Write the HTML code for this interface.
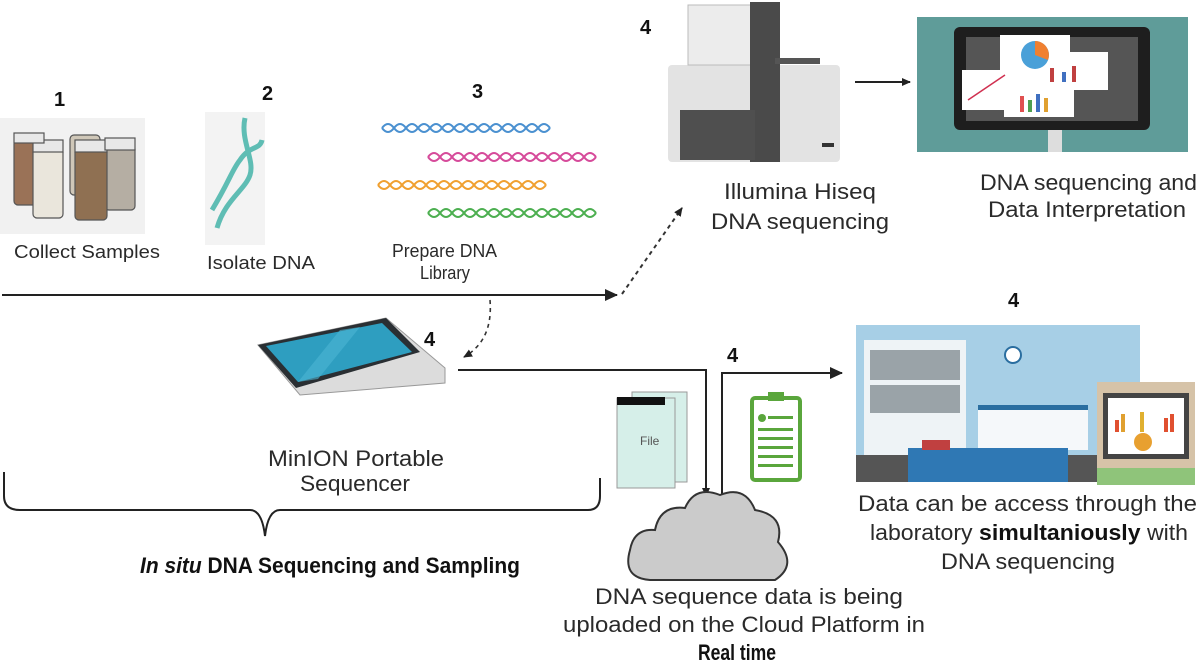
<!DOCTYPE html>
<html><head><meta charset="utf-8"><style>
html,body{margin:0;padding:0;background:#fff;}
svg{display:block;}
text{font-family:"Liberation Sans",sans-serif;fill:#2a2a2a;}
.n{font-weight:bold;font-size:20px;fill:#111;}
.l{font-size:22px;}
.s{font-size:18px;}
</style></head><body>
<svg width="1200" height="663" viewBox="0 0 1200 663" xmlns="http://www.w3.org/2000/svg">
<defs>
<marker id="ah" markerWidth="10" markerHeight="10" refX="8" refY="5" orient="auto" markerUnits="userSpaceOnUse"><path d="M0,1 L9,5 L0,9 Z" fill="#222"/></marker>
<marker id="ah2" markerWidth="14" markerHeight="14" refX="12" refY="7" orient="auto" markerUnits="userSpaceOnUse"><path d="M0,1 L13,7 L0,13 Z" fill="#222"/></marker>
</defs>

<text class="n" x="54" y="106">1</text>
<text class="n" x="262" y="100">2</text>
<text class="n" x="472" y="98">3</text>
<text class="n" x="640" y="34">4</text>
<text class="n" x="920" y="40">5</text>
<text class="n" x="424" y="346">4</text>
<text class="n" x="727" y="362">4</text>
<text class="n" x="1008" y="307">4</text>

<rect x="0" y="118" width="145" height="116" fill="#f1f1f1"/>
<g stroke="#555" stroke-width="1.2">
<rect x="14" y="140" width="30" height="65" rx="4" fill="#9a7257"/>
<rect x="70" y="135" width="30" height="60" rx="4" fill="#cfc7b8"/>
<rect x="105" y="145" width="30" height="65" rx="4" fill="#b5aea3"/>
<rect x="33" y="148" width="30" height="70" rx="4" fill="#eae6dc"/>
<rect x="75" y="148" width="32" height="72" rx="4" fill="#8f7052"/>
<rect x="33" y="140" width="30" height="12" fill="#e8e8e8"/>
<rect x="75" y="140" width="32" height="12" fill="#e8e8e8"/>
<rect x="105" y="138" width="30" height="12" fill="#e8e8e8"/>
<rect x="14" y="133" width="30" height="10" fill="#e8e8e8"/>
</g>
<text class="s" x="14" y="258" textLength="146" lengthAdjust="spacingAndGlyphs">Collect Samples</text>

<rect x="205" y="112" width="60" height="133" fill="#f3f3f3"/>
<g stroke="#5fbdb4" stroke-width="5" fill="none">
<path d="M212,210 C230,180 232,170 240,160 C250,145 260,150 262,140"/>
<path d="M217,228 C225,200 245,190 250,175 C255,160 240,140 245,118"/>
</g>
<text class="s" x="207" y="269" textLength="108" lengthAdjust="spacingAndGlyphs">Isolate DNA</text>

<g fill="none" stroke-width="2">
<path d="M382,128 q6,-8 12,0 t12,0 t12,0 t12,0 t12,0 t12,0 t12,0 t12,0 t12,0 t12,0 t12,0 t12,0 t12,0 t12,0" stroke="#4a90d0"/>
<path d="M382,128 q6,8 12,0 t12,0 t12,0 t12,0 t12,0 t12,0 t12,0 t12,0 t12,0 t12,0 t12,0 t12,0 t12,0 t12,0" stroke="#4a90d0"/>
<path d="M428,157 q6,-8 12,0 t12,0 t12,0 t12,0 t12,0 t12,0 t12,0 t12,0 t12,0 t12,0 t12,0 t12,0 t12,0 t12,0" stroke="#d64a9a"/>
<path d="M428,157 q6,8 12,0 t12,0 t12,0 t12,0 t12,0 t12,0 t12,0 t12,0 t12,0 t12,0 t12,0 t12,0 t12,0 t12,0" stroke="#d64a9a"/>
<path d="M378,185 q6,-8 12,0 t12,0 t12,0 t12,0 t12,0 t12,0 t12,0 t12,0 t12,0 t12,0 t12,0 t12,0 t12,0 t12,0" stroke="#f0a030"/>
<path d="M378,185 q6,8 12,0 t12,0 t12,0 t12,0 t12,0 t12,0 t12,0 t12,0 t12,0 t12,0 t12,0 t12,0 t12,0 t12,0" stroke="#f0a030"/>
<path d="M428,213 q6,-8 12,0 t12,0 t12,0 t12,0 t12,0 t12,0 t12,0 t12,0 t12,0 t12,0 t12,0 t12,0 t12,0 t12,0" stroke="#4caf50"/>
<path d="M428,213 q6,8 12,0 t12,0 t12,0 t12,0 t12,0 t12,0 t12,0 t12,0 t12,0 t12,0 t12,0 t12,0 t12,0 t12,0" stroke="#4caf50"/>
</g>
<text class="s" x="392" y="257" textLength="105" lengthAdjust="spacingAndGlyphs">Prepare DNA</text>
<text class="s" x="420" y="279" textLength="50" lengthAdjust="spacingAndGlyphs">Library</text>

<line x1="2" y1="295" x2="617" y2="295" stroke="#222" stroke-width="2" marker-end="url(#ah2)"/>
<line x1="622" y1="294" x2="682" y2="208" stroke="#333" stroke-width="2" stroke-dasharray="4,4" marker-end="url(#ah)"/>
<path d="M490,300 C492,325 485,345 464,357" stroke="#333" stroke-width="1.6" stroke-dasharray="4,4" fill="none" marker-end="url(#ah)"/>

<rect x="668" y="65" width="172" height="97" rx="4" fill="#e3e3e3"/>
<rect x="688" y="5" width="65" height="60" fill="#ececec" stroke="#bbb"/>
<rect x="750" y="2" width="30" height="160" fill="#4a4a4a"/>
<rect x="680" y="110" width="75" height="50" fill="#4f4f4f"/>
<rect x="775" y="58" width="45" height="6" fill="#555"/>
<rect x="822" y="143" width="12" height="4" fill="#333"/>
<text class="l" x="724" y="199" textLength="152" lengthAdjust="spacingAndGlyphs">Illumina Hiseq</text>
<text class="l" x="711" y="229" textLength="178" lengthAdjust="spacingAndGlyphs">DNA sequencing</text>

<line x1="855" y1="82" x2="910" y2="82" stroke="#222" stroke-width="2" marker-end="url(#ah)"/>

<rect x="917" y="17" width="271" height="135" fill="#5f9c99"/>
<rect x="954" y="27" width="196" height="103" rx="6" fill="#1e1e1e"/>
<rect x="966" y="37" width="172" height="84" fill="#555"/>
<rect x="1000" y="35" width="70" height="42" fill="#fff"/>
<rect x="1036" y="52" width="72" height="38" fill="#fff"/>
<rect x="962" y="70" width="80" height="40" fill="#fff"/>
<rect x="1004" y="85" width="70" height="32" fill="#fff"/>
<circle cx="1035" cy="55" r="14" fill="#4aa0d8"/>
<path d="M1035,55 L1035,41 A14,14 0 0 1 1048,60 Z" fill="#f08030"/>
<path d="M968,100 L1005,75" stroke="#d03050" stroke-width="1.5"/>
<rect x="1020" y="96" width="4" height="16" fill="#e05050"/><rect x="1028" y="100" width="4" height="12" fill="#50a050"/><rect x="1036" y="94" width="4" height="18" fill="#4070c0"/><rect x="1044" y="98" width="4" height="14" fill="#e0a030"/>
<rect x="1050" y="68" width="4" height="14" fill="#c04040"/><rect x="1062" y="72" width="4" height="10" fill="#4070c0"/><rect x="1072" y="66" width="4" height="16" fill="#c04040"/>
<rect x="1048" y="130" width="14" height="22" fill="#ddd"/>
<text class="l" x="980" y="190" textLength="217" lengthAdjust="spacingAndGlyphs">DNA sequencing and</text>
<text class="l" x="988" y="217" textLength="198" lengthAdjust="spacingAndGlyphs">Data Interpretation</text>

<polygon points="258,345 300,395 445,383 445,368 386,318" fill="#dcdcdc" stroke="#999"/>
<polygon points="258,345 386,318 420,352 296,388" fill="#2a2f33"/>
<polygon points="266,346 382,323 412,352 298,382" fill="#2e9ec0"/>
<polygon points="298,382 340,330 360,327 318,379" fill="#4cb6d4" opacity="0.6"/>
<text class="l" x="268" y="466" textLength="176" lengthAdjust="spacingAndGlyphs">MinION Portable</text>
<text class="l" x="300" y="491" textLength="110" lengthAdjust="spacingAndGlyphs">Sequencer</text>

<path d="M4,472 L4,496 Q4,510 20,510 L250,510 Q262,510 265,536 Q268,510 280,510 L588,510 Q600,510 600,496 L600,478" fill="none" stroke="#222" stroke-width="2"/>
<text x="140" y="573" textLength="380" lengthAdjust="spacingAndGlyphs" style="font-size:22px;font-weight:bold;fill:#111"><tspan font-style="italic">In situ</tspan> DNA Sequencing and Sampling</text>

<polyline points="458,370 706,370 706,496" fill="none" stroke="#222" stroke-width="2" marker-end="url(#ah)"/>
<polyline points="722,498 722,373 842,373" fill="none" stroke="#222" stroke-width="2" marker-end="url(#ah2)"/>

<rect x="632" y="392" width="55" height="90" fill="#d6efe9" stroke="#999"/>
<rect x="617" y="398" width="58" height="90" fill="#d6efe9" stroke="#999"/>
<rect x="617" y="397" width="48" height="8" fill="#111"/>
<text x="640" y="445" style="font-size:12px;fill:#555">File</text>

<rect x="752" y="398" width="48" height="82" rx="3" fill="#fff" stroke="#5aa63c" stroke-width="4"/>
<rect x="768" y="392" width="16" height="9" fill="#5aa63c"/>
<g fill="#5aa63c"><circle cx="762" cy="418" r="4"/><rect x="768" y="416" width="25" height="3"/><rect x="758" y="428" width="35" height="3"/><rect x="758" y="437" width="35" height="3"/><rect x="758" y="446" width="35" height="3"/><rect x="758" y="455" width="35" height="3"/><rect x="758" y="464" width="35" height="3"/></g>

<path d="M650,580 Q622,578 630,550 Q634,528 655,530 Q660,505 685,508 Q695,485 720,495 Q745,485 755,510 Q785,515 778,542 Q798,565 775,580 Z" fill="#cbcbcb" stroke="#333" stroke-width="2"/>
<text class="l" x="595" y="604" textLength="308" lengthAdjust="spacingAndGlyphs">DNA sequence  data is being</text>
<text class="l" x="563" y="632" textLength="362" lengthAdjust="spacingAndGlyphs">uploaded on the Cloud Platform in</text>
<text x="698" y="660" textLength="78" lengthAdjust="spacingAndGlyphs" style="font-size:22px;font-weight:bold;fill:#111">Real time</text>

<rect x="856" y="325" width="284" height="157" fill="#a7cfe6"/>
<rect x="864" y="340" width="102" height="120" fill="#eef3f6"/>
<rect x="870" y="350" width="90" height="30" fill="#9aa3a8"/>
<rect x="870" y="385" width="90" height="28" fill="#9aa3a8"/>
<rect x="978" y="405" width="110" height="45" fill="#f5f8fa"/>
<rect x="978" y="405" width="110" height="5" fill="#2a6ea0"/>
<circle cx="1013" cy="355" r="8" fill="#fff" stroke="#2a6ea0" stroke-width="2"/>
<rect x="856" y="455" width="284" height="27" fill="#555"/>
<rect x="908" y="448" width="160" height="34" fill="#2f78b4"/>
<rect x="922" y="440" width="28" height="10" fill="#c04040"/>
<rect x="1097" y="382" width="98" height="103" fill="#d6c3a8"/>
<rect x="1103" y="393" width="86" height="66" fill="#444"/>
<rect x="1108" y="398" width="76" height="56" fill="#fff"/>
<rect x="1115" y="420" width="4" height="12" fill="#e05030"/><rect x="1121" y="414" width="4" height="18" fill="#e0a030"/><rect x="1140" y="412" width="4" height="20" fill="#e0b030"/><rect x="1164" y="418" width="4" height="14" fill="#e05030"/><rect x="1170" y="414" width="4" height="18" fill="#e05030"/>
<circle cx="1143" cy="442" r="9" fill="#e8a030"/>
<rect x="1097" y="468" width="98" height="17" fill="#8fc47a"/>
<text class="l" x="858" y="511" textLength="339" lengthAdjust="spacingAndGlyphs">Data can be access through the</text>
<text class="l" x="870" y="540" textLength="318" lengthAdjust="spacingAndGlyphs">laboratory <tspan font-weight="bold" fill="#111">simultaniously</tspan> with</text>
<text class="l" x="941" y="569" textLength="174" lengthAdjust="spacingAndGlyphs">DNA sequencing</text>
</svg>
</body></html>
